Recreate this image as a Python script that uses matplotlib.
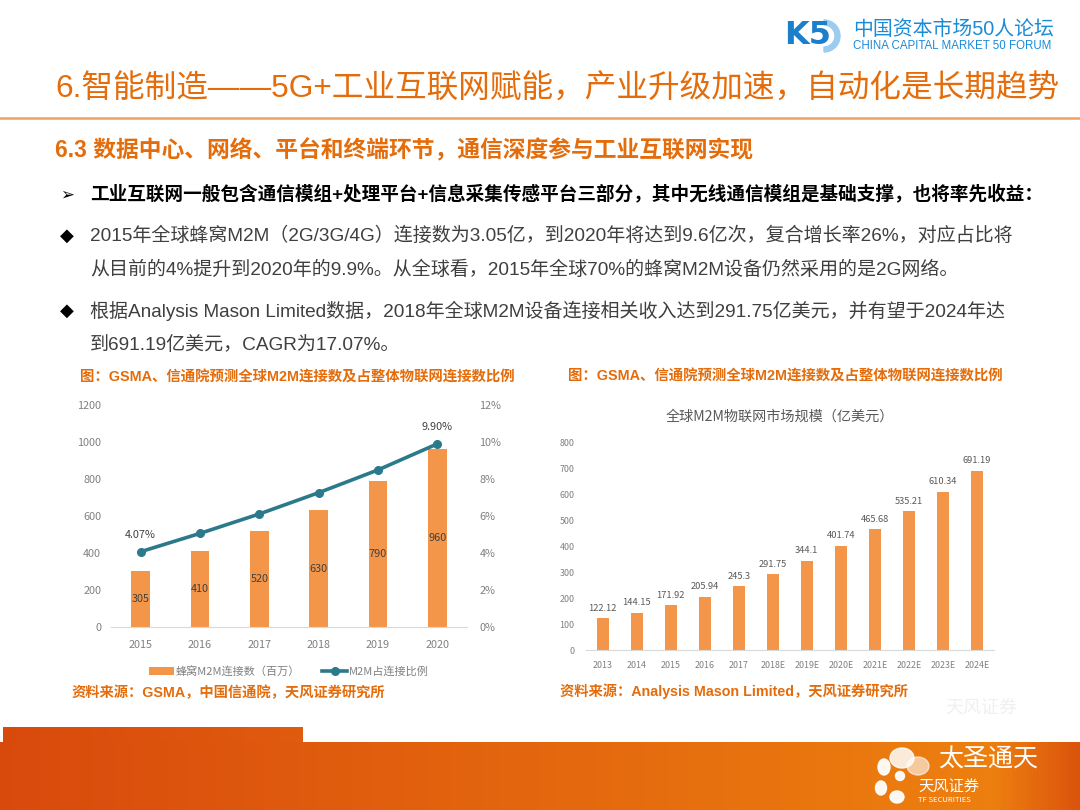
import matplotlib.pyplot as plt
import numpy as np
from matplotlib.patches import Ellipse, Wedge

plt.rcParams['font.family'] = ['Noto Sans CJK SC', 'DejaVu Sans']
MIX = ['Liberation Sans', 'Noto Sans CJK SC']   # latin in Arial-like face, CJK fallback

# %% data
years_left = ['2015', '2016', '2017', '2018', '2019', '2020']
m2m_conn = [305, 410, 520, 630, 790, 960]          # 百万
m2m_share = [4.07, 5.06, 6.11, 7.26, 8.49, 9.90]   # %

years_right = ['2013', '2014', '2015', '2016', '2017', '2018E', '2019E',
               '2020E', '2021E', '2022E', '2023E', '2024E']
market_size = [122.12, 144.15, 171.92, 205.94, 245.3, 291.75, 344.1,
               401.74, 465.68, 535.21, 610.34, 691.19]  # 亿美元

ORANGE = '#E46C0A'
BAR = '#F4964A'
TEAL = '#2B7A8C'
GREY = '#808080'

W, H = 1080, 810
fig = plt.figure(figsize=(10.8, 8.1), dpi=100)


def box(l, t, r, b):
    # pixel box -> figure fraction
    return [l / W, 1 - b / H, (r - l) / W, (b - t) / H]


# %% slide background (pixel coordinates)
bg = fig.add_axes([0, 0, 1, 1])
bg.axis('off')

# bottom orange band with gradient
xs = np.linspace(0, 1, 300)
c0 = np.array([0.85, 0.29, 0.05])
c1 = np.array([0.93, 0.50, 0.06])
c2 = np.array([0.86, 0.33, 0.05])
grad = np.where(xs[:, None] < 0.92,
                c0 + (c1 - c0) * (xs[:, None] / 0.92),
                c1 + (c2 - c1) * ((xs[:, None] - 0.92) / 0.08))
bg.imshow(grad[None, :, :], extent=[0, W, H, 742], aspect='auto')
bg.imshow(grad[None, :90, :], extent=[3, 303, 742, 727], aspect='auto')
bg.set_xlim(0, W)
bg.set_ylim(H, 0)

# header logo
bg.text(784, 36, 'K5', fontsize=23, fontweight='bold', color='#1B7FCC',
        va='center', ha='left', family='DejaVu Sans')
bg.add_patch(Wedge((824, 36), 16, -90, 90, width=5, color='#9CCCF0'))
bg.text(853, 29, '中国资本市场50人论坛', fontsize=14.3, color='#1A8BD6',
        va='center', ha='left', family=MIX)
bg.text(853, 46, 'CHINA CAPITAL MARKET 50 FORUM', fontsize=8.3,
        color='#1A8BD6', va='center', ha='left', family=MIX)

# title
bg.text(55, 90, '6.智能制造——5G+工业互联网赋能，产业升级加速，自动化是长期趋势',
        fontsize=22.8, color=ORANGE, va='center', ha='left', family=MIX)
bg.plot([0, W], [118, 118], color='#F0A060', lw=1.8)
bg.text(55, 151, '6.3 数据中心、网络、平台和终端环节，通信深度参与工业互联网实现',
        fontsize=16.4, color=ORANGE, fontweight='bold', va='center', ha='left',
        family=MIX)

# bullets
bg.text(60, 195, '➢', fontsize=12, color='black', va='center', ha='left',
        family=['DejaVu Sans'])
bg.text(90, 195, '工业互联网一般包含通信模组+处理平台+信息采集传感平台三部分，其中无线通信模组是基础支撑，也将率先收益：',
        fontsize=13.4, color='black', fontweight='bold', va='center', ha='left',
        family=MIX)
body = [(236, '2015年全球蜂窝M2M（2G/3G/4G）连接数为3.05亿，到2020年将达到9.6亿次，复合增长率26%，对应占比将'),
        (270, '从目前的4%提升到2020年的9.9%。从全球看，2015年全球70%的蜂窝M2M设备仍然采用的是2G网络。'),
        (311, '根据Analysis Mason Limited数据，2018年全球M2M设备连接相关收入达到291.75亿美元，并有望于2024年达'),
        (345, '到691.19亿美元，CAGR为17.07%。')]
for yy, s in body:
    bg.text(90, yy, s, fontsize=13.7, color='#3F3F3F', va='center',
            ha='left', family=MIX)
for yy in (236, 311):
    bg.text(60, yy, '◆', fontsize=13, color='black', va='center', ha='left',
            family=['DejaVu Sans'])

# chart captions and sources
cap = '图：GSMA、信通院预测全球M2M连接数及占整体物联网连接数比例'
bg.text(80, 378, cap, fontsize=10.4, color=ORANGE, fontweight='bold',
        va='center', ha='left', family=MIX)
bg.text(568, 377, cap, fontsize=10.4, color=ORANGE, fontweight='bold',
        va='center', ha='left', family=MIX)
bg.text(72, 693, '资料来源：GSMA，中国信通院，天风证券研究所',
        fontsize=10.3, color=ORANGE, fontweight='bold', va='center', ha='left',
        family=MIX)
bg.text(560, 691, '资料来源：Analysis Mason Limited，天风证券研究所',
        fontsize=10.3, color=ORANGE, fontweight='bold', va='center', ha='left',
        family=MIX)

# faint watermark
bg.text(945, 708, '天风证券', fontsize=13, color='#F0F0F0', va='center', ha='left')

# bottom-right logo
for (ex, ey, ew, eh) in [(884, 767, 12, 16), (881, 788, 11, 14),
                         (897, 797, 14, 12), (900, 776, 9, 9)]:
    bg.add_patch(Ellipse((ex, ey), ew, eh, color='white', alpha=0.95))
bg.add_patch(Ellipse((902, 758), 24, 20, color='white', alpha=0.85))
bg.add_patch(Ellipse((918, 766), 22, 18, color='#FFFFFF', alpha=0.6))
bg.text(938, 760, '太圣通天', fontsize=18, color='white', va='center', ha='left')
bg.text(918, 786, '天风证券', fontsize=11, color='white', va='center', ha='left')
bg.text(918, 800, 'TF SECURITIES', fontsize=5.5, color='white', va='center',
        ha='left')

# %% left chart: bars + share line
ax = fig.add_axes(box(111, 405, 467, 627))
x = np.arange(len(years_left))
bars = ax.bar(x, m2m_conn, width=0.32, color=BAR, label='蜂窝M2M连接数（百万）',
              zorder=2)
for xi, v in zip(x, m2m_conn):
    ax.text(xi, v / 2, f'{v}', ha='center', va='center', fontsize=7.8,
            color='#404040', zorder=3)
ax.set_xlim(-0.5, len(years_left) - 0.5)
ax.set_ylim(0, 1200)
ax.set_yticks(range(0, 1201, 200))
ax.set_xticks(x)
ax.set_xticklabels(years_left)
ax.tick_params(length=0, labelsize=7.8, labelcolor=GREY, pad=7)
ax.tick_params(axis='x', pad=9)
for s in ['top', 'right', 'left']:
    ax.spines[s].set_visible(False)
ax.spines['bottom'].set_color('#D9D9D9')

ax2 = ax.twinx()
line, = ax2.plot(x, m2m_share, color=TEAL, lw=2.6, marker='o', ms=5.5,
                 label='M2M占连接比例', zorder=4)
ax2.set_ylim(0, 12)
ax2.set_yticks(range(0, 13, 2))
ax2.set_yticklabels([f'{t}%' for t in range(0, 13, 2)])
ax2.tick_params(length=0, labelsize=7.8, labelcolor=GREY, pad=9)
for s in ['top', 'right', 'left', 'bottom']:
    ax2.spines[s].set_visible(False)
for i in (0, len(x) - 1):
    ax2.annotate(f'{m2m_share[i]:.2f}%', (x[i], m2m_share[i]),
                 textcoords='offset points', xytext=(0, 10), ha='center',
                 fontsize=7.8, color='#404040')
ax.legend(handles=[bars, line], loc='upper center',
          bbox_to_anchor=(0.5, -0.13), ncol=2, frameon=False, fontsize=8,
          labelcolor=GREY, handlelength=2.2, columnspacing=2.0,
          handletextpad=0.2)

# %% right chart: market size
ax3 = fig.add_axes(box(585.7, 442.7, 994, 650))
x3 = np.arange(len(years_right))
ax3.bar(x3, market_size, width=0.36, color=BAR, zorder=2)
for xi, v in zip(x3, market_size):
    ax3.annotate(f'{v:g}', (xi, v), textcoords='offset points', xytext=(0, 4),
                 ha='center', va='bottom', fontsize=6.7, color='#595959')
ax3.set_xlim(-0.5, len(years_right) - 0.5)
ax3.set_ylim(0, 800)
ax3.set_yticks(range(0, 801, 100))
ax3.set_xticks(x3)
ax3.set_xticklabels(years_right)
ax3.tick_params(length=0, labelsize=6.4, labelcolor=GREY, pad=8)
for s in ['top', 'right', 'left']:
    ax3.spines[s].set_visible(False)
ax3.spines['bottom'].set_color('#D9D9D9')
fig.text(780 / W, 1 - 417 / H, '全球M2M物联网市场规模（亿美元）', fontsize=10.2,
         color='#595959', ha='center', va='center')

fig.savefig('out.png', dpi=100)
